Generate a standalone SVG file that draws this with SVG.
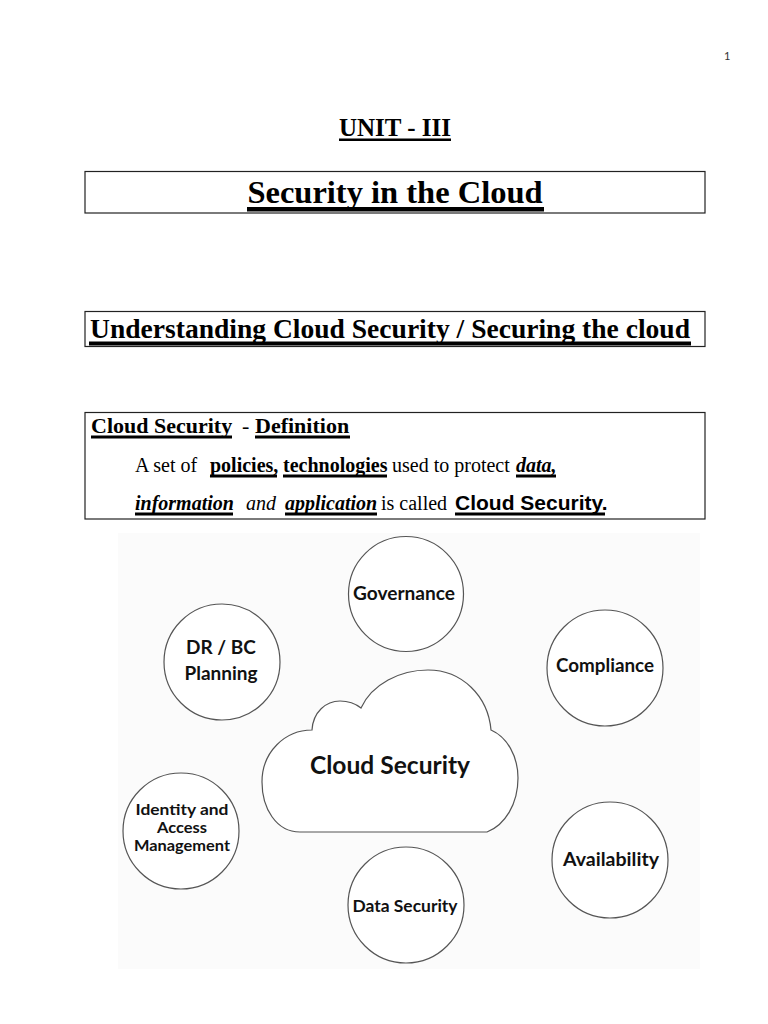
<svg xmlns="http://www.w3.org/2000/svg" width="768" height="1024" viewBox="0 0 768 1024">
<style>
.tnr{font-family:"Liberation Serif","Times New Roman",serif;fill:#000}
.b{font-weight:bold}
.i{font-style:italic}
.box{fill:none;stroke:#222;stroke-width:1.2}
.ul{fill:#000}
.node circle{fill:#fff;stroke:#555;stroke-width:1.2}
.lbl{font-family:Lato,"Open Sans",sans-serif;font-weight:bold;fill:#111;text-anchor:middle}
</style>
<rect width="768" height="1024" fill="#fff"/>
<text x="724" y="60" font-family="Lato,'Liberation Sans',sans-serif" font-size="11" fill="#333">1</text>

<text class="tnr b" x="395" y="136" font-size="25" text-anchor="middle">UNIT - III</text>
<rect class="ul" x="339" y="138.5" width="112" height="2.5"/>

<rect class="box" x="85" y="171.5" width="620" height="41.5"/>
<text class="tnr b" x="395" y="203" font-size="32.5" text-anchor="middle">Security in the Cloud</text>
<rect class="ul" x="247" y="207" width="297" height="4.5"/>

<rect class="box" x="85" y="311.5" width="620" height="35"/>
<text class="tnr b" x="90" y="338" font-size="27.5" textLength="600" lengthAdjust="spacingAndGlyphs">Understanding Cloud Security / Securing the cloud</text>
<rect class="ul" x="89" y="341.5" width="602" height="4"/>

<rect class="box" x="85" y="412.5" width="620" height="106.5"/>
<text class="tnr b" x="91" y="433" font-size="22">Cloud Security</text>
<text class="tnr" x="242" y="433" font-size="22">-</text>
<text class="tnr b" x="255" y="433" font-size="22">Definition</text>
<rect class="ul" x="91" y="435.5" width="141" height="3"/>
<rect class="ul" x="255" y="435.5" width="95" height="3"/>

<text class="tnr" x="135" y="472" font-size="20">A set of</text>
<text class="tnr b" x="210" y="472" font-size="20">policies,</text>
<text class="tnr b" x="283" y="472" font-size="20">technologies</text>
<text class="tnr" x="392" y="472" font-size="20">used to protect</text>
<text class="tnr b i" x="516" y="472" font-size="20">data,</text>
<rect class="ul" x="210" y="474.5" width="67" height="3"/>
<rect class="ul" x="283" y="474.5" width="104" height="3"/>
<rect class="ul" x="516" y="474.5" width="40" height="3"/>

<text class="tnr b i" x="135" y="510" font-size="20">information</text>
<text class="tnr i" x="246" y="510" font-size="20">and</text>
<text class="tnr b i" x="285" y="510" font-size="20">application</text>
<text class="tnr" x="381" y="510" font-size="20">is called</text>
<text x="455" y="510" font-family="'Liberation Sans',Arial,sans-serif" font-weight="bold" font-size="21" fill="#000">Cloud Security.</text>
<rect class="ul" x="135" y="512.5" width="98" height="3"/>
<rect class="ul" x="285" y="512.5" width="92" height="3"/>
<rect class="ul" x="455" y="512.5" width="150" height="3"/>

<rect x="118" y="533" width="582" height="436" fill="#fbfbfb"/>

<g id="connectors"></g>

<g id="cloud" class="node">
<path d="M300,832 C276,832 262,808 262,782 C262,752 285,730 312,730 C313,712 326,701 340,701 C349,701 356,704 361,708 C372,684 400,670 428,670 C462,670 488,696 491,730 C507,737 518,756 518,778 C518,804 505,825 487,832 Z" fill="#fff" stroke="#555" stroke-width="1.2"/>
<text class="lbl" x="390" y="774" font-size="25" textLength="160" lengthAdjust="spacingAndGlyphs">Cloud Security</text>
</g>

<g id="governance" class="node">
<circle cx="406" cy="594" r="57.5"/>
<text class="lbl" x="404" y="600" font-size="19" textLength="102" lengthAdjust="spacingAndGlyphs">Governance</text>
</g>
<g id="drbc" class="node">
<circle cx="222" cy="662" r="58"/>
<text class="lbl" x="221" y="654" font-size="19">DR / BC</text>
<text class="lbl" x="221" y="680" font-size="19">Planning</text>
</g>
<g id="compliance" class="node">
<circle cx="605" cy="668" r="58"/>
<text class="lbl" x="605" y="672" font-size="19" textLength="98" lengthAdjust="spacingAndGlyphs">Compliance</text>
</g>
<g id="iam" class="node">
<circle cx="181" cy="831" r="58"/>
<text class="lbl" x="182" y="815" font-size="16" textLength="93" lengthAdjust="spacingAndGlyphs">Identity and</text>
<text class="lbl" x="182" y="833" font-size="16" textLength="50" lengthAdjust="spacingAndGlyphs">Access</text>
<text class="lbl" x="182" y="851" font-size="16" textLength="96" lengthAdjust="spacingAndGlyphs">Management</text>
</g>
<g id="datasecurity" class="node">
<circle cx="406" cy="905" r="58"/>
<text class="lbl" x="405" y="912" font-size="17" textLength="105" lengthAdjust="spacingAndGlyphs">Data Security</text>
</g>
<g id="availability" class="node">
<circle cx="610" cy="860" r="58"/>
<text class="lbl" x="611" y="866" font-size="18" textLength="96" lengthAdjust="spacingAndGlyphs">Availability</text>
</g>
</svg>
